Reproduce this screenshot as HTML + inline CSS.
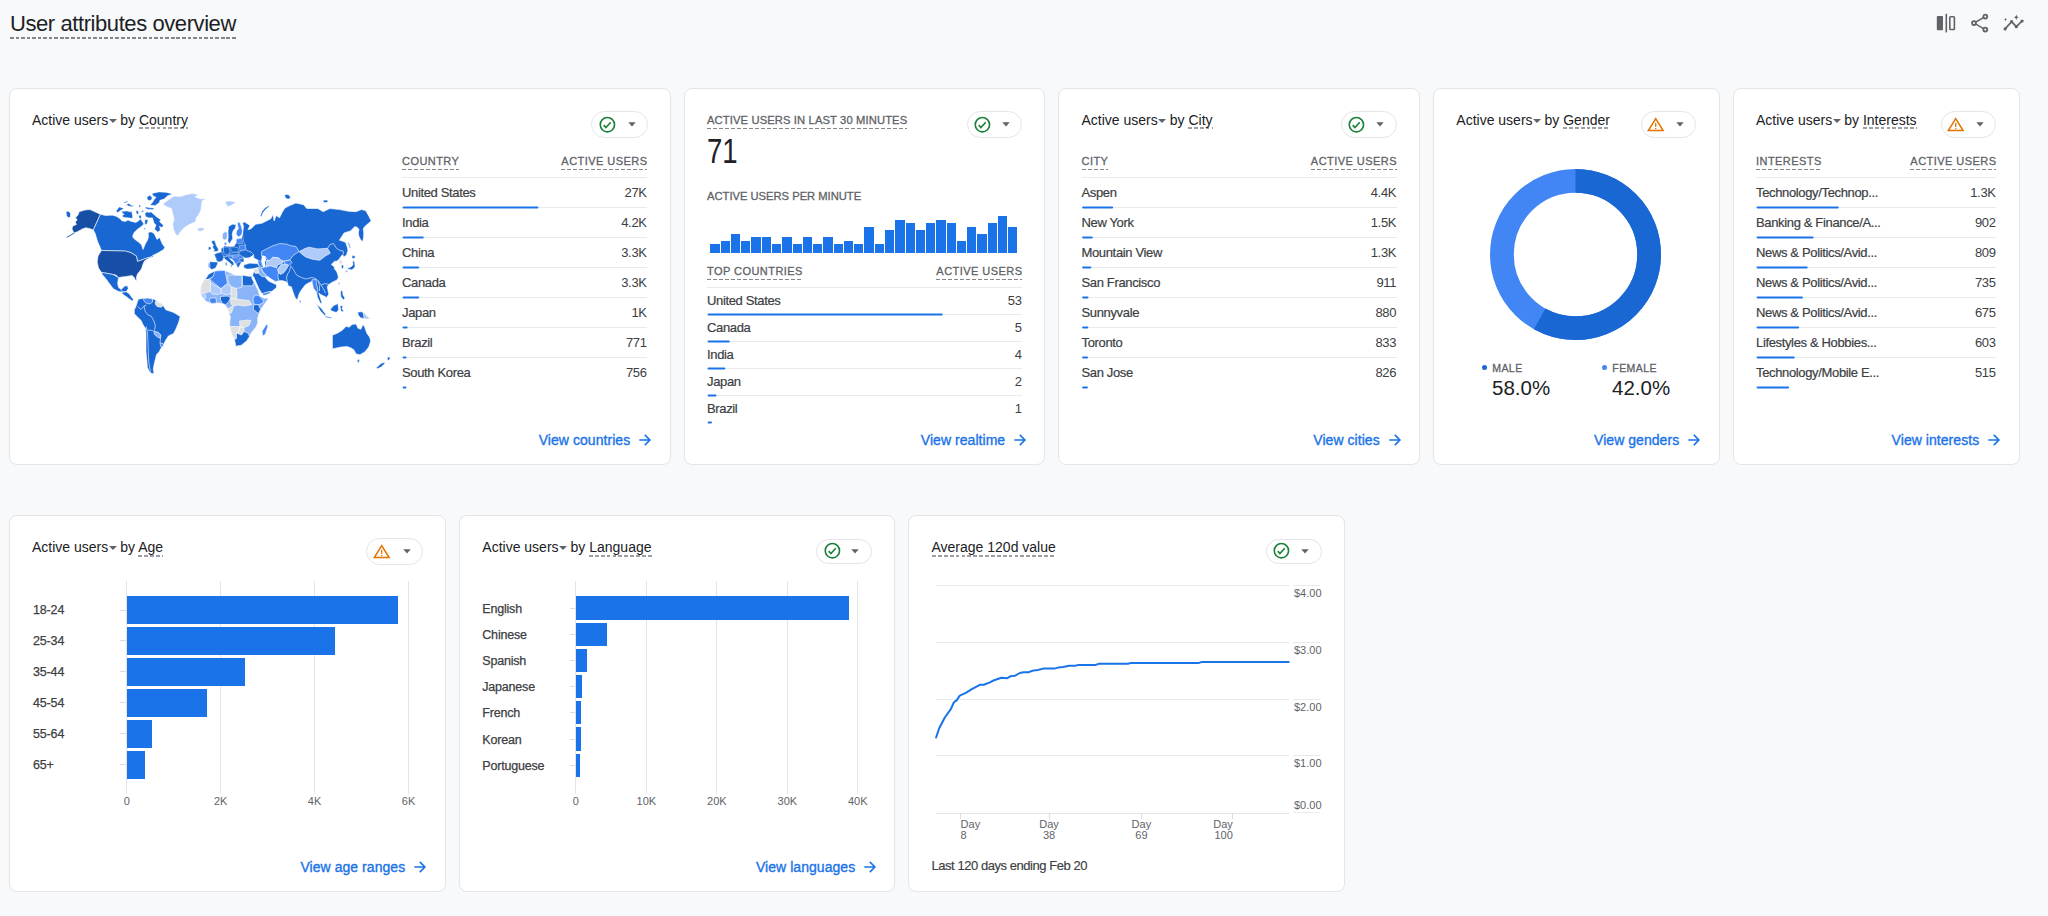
<!DOCTYPE html>
<html><head><meta charset="utf-8"><title>User attributes overview</title><style>
*{margin:0;padding:0;box-sizing:border-box}
html,body{width:2048px;height:916px;overflow:hidden;background:#f8f9fa}
body{position:relative;font-family:'Liberation Sans', Arial, sans-serif;color:#202124}
.t{position:absolute;white-space:nowrap}
.r{position:absolute}
.ic{position:absolute;overflow:visible}
.card{position:absolute;background:#fff;border:1px solid #e3e5e8;border-radius:8px}
.pill{position:absolute;border:1px solid #e3e5e8;border-radius:14px;background:#fff}
.du{background-image:repeating-linear-gradient(to right,#80868b 0 4px,transparent 4px 6px);background-repeat:no-repeat;background-size:100% 1px;background-position:0 100%}
.du11{padding-bottom:3px}
.ttl{font-size:14px;line-height:14px;color:#202124}
.ttl .dim{background-image:repeating-linear-gradient(to right,#9aa0a6 0 3.8px,transparent 3.8px 5.9px);background-repeat:no-repeat;background-size:100% 2px;background-position:0 100%;padding-bottom:1.4px}
.car{display:inline-block;width:0;height:0;border-left:4.2px solid transparent;border-right:4.2px solid transparent;border-top:4.3px solid #5f6368;margin:0 -0.5px 0 0.6px;vertical-align:2.2px}
.lnk{font-size:14px;line-height:14px;color:#1a73e8;-webkit-text-stroke:0.35px #1a73e8;letter-spacing:0.05px}
</style></head><body>
<div class="t" style="top:12.78px;font-size:22px;line-height:22px;color:#202124;letter-spacing:-0.42px;left:10.00px;"><span style="background-image:repeating-linear-gradient(to right,#80868b 0 3.6px,transparent 3.6px 5.55px);background-repeat:no-repeat;background-size:100% 2px;background-position:0 100%;padding-bottom:3.6px">User attributes overview</span></div>
<svg class="ic" style="left:1934px;top:12px" width="24" height="22" viewBox="0 0 24 22"><rect x="2.8" y="3.9" width="6.2" height="14.4" rx="1" fill="#5f6368"/><rect x="11.5" y="1.8" width="1.6" height="18.6" fill="#5f6368"/><rect x="15.8" y="4.7" width="4.6" height="12.8" rx="0.8" fill="none" stroke="#5f6368" stroke-width="1.6"/></svg>
<svg class="ic" style="left:1968px;top:12px" width="24" height="22" viewBox="0 0 24 22"><path d="M17.3 4.6 L6 11.1 L17.3 17.6" fill="none" stroke="#5f6368" stroke-width="1.5"/><circle cx="17.3" cy="4.6" r="1.95" fill="#f8f9fa" stroke="#5f6368" stroke-width="1.8"/><circle cx="6" cy="11.1" r="1.95" fill="#f8f9fa" stroke="#5f6368" stroke-width="1.8"/><circle cx="17.3" cy="17.6" r="1.95" fill="#f8f9fa" stroke="#5f6368" stroke-width="1.8"/></svg>
<svg class="ic" style="left:2000px;top:12px" width="26" height="22" viewBox="0 0 26 22"><path d="M5.1 16.9 L11.6 9.7 L16.3 14.7 L22.1 9" fill="none" stroke="#5f6368" stroke-width="1.7" stroke-linejoin="round"/><circle cx="5.1" cy="16.9" r="1.6" fill="#5f6368"/><circle cx="11.6" cy="9.7" r="1.6" fill="#5f6368"/><circle cx="16.3" cy="14.7" r="1.6" fill="#5f6368"/><circle cx="22.1" cy="9" r="1.6" fill="#5f6368"/><path d="M16.3 2.6 Q16.6 5 18.8 5.3 Q16.6 5.6 16.3 8 Q16 5.6 13.8 5.3 Q16 5 16.3 2.6Z" fill="#5f6368"/><path d="M5.5 5.8 Q5.7 7.3 7 7.5 Q5.7 7.7 5.5 9.2 Q5.3 7.7 4 7.5 Q5.3 7.3 5.5 5.8Z" fill="#5f6368"/></svg>
<div class="card" style="left:9px;top:88px;width:662px;height:377px"></div>
<div class="card" style="left:684px;top:88px;width:361px;height:377px"></div>
<div class="card" style="left:1058px;top:88px;width:362px;height:377px"></div>
<div class="card" style="left:1433px;top:88px;width:287px;height:377px"></div>
<div class="card" style="left:1733px;top:88px;width:287px;height:377px"></div>
<div class="t ttl" style="left:32px;top:112.95px">Active users<span class="car"></span> by <span class="dim">Country</span></div>
<div class="pill" style="left:591.0px;top:111.0px;width:57.0px;height:27.0px"></div>
<svg class="ic" style="left:597.5px;top:115.5px" width="18" height="18" viewBox="0 0 18 18"><circle cx="9.4" cy="8.7" r="7.15" fill="none" stroke="#188038" stroke-width="1.6"/><path d="M5.7 9.1 L7.9 11.5 L12.8 6.3" fill="none" stroke="#188038" stroke-width="1.6"/></svg>
<svg class="ic" style="left:626.8px;top:121.9px" width="10" height="6" viewBox="0 0 10 6"><path d="M1.3 0.3 L8.7 0.3 L5 4.6 Z" fill="#5f6368"/></svg>
<svg class="ic" style="left:0;top:0" width="2048" height="916" viewBox="0 0 2048 916">
<polygon points="66.0,212.0 68.0,211.0 70.5,213.0 70.5,217.0 68.0,217.8 66.5,215.5" fill="#1967d2" stroke="#fff" stroke-width="0.6" stroke-linejoin="round"/>
<polygon points="79.1,211.8 85.1,209.9 90.0,209.6 100.4,214.3 93.3,230.0 89.5,228.5 85.7,227.8 82.4,228.9 78.0,231.4 74.2,233.0 72.9,230.9 72.0,228.5 72.9,225.9 76.4,224.5 75.3,222.1 77.3,219.7 75.3,217.8 77.5,215.8 78.6,213.6" fill="#174ea6" stroke="#fff" stroke-width="0.6" stroke-linejoin="round"/>
<polygon points="100.4,214.3 105.9,215.6 110.0,215.2 112.6,215.2 116.2,216.2 120.3,218.8 121.8,220.8 125.4,221.4 128.0,220.1 131.5,221.4 135.7,222.4 138.7,220.8 140.3,218.8 141.8,220.8 143.9,223.9 140.8,227.0 137.7,229.0 134.1,232.6 132.8,235.5 133.0,237.5 135.5,240.0 138.6,242.0 141.6,245.0 143.0,249.5 143.9,247.5 145.5,243.5 147.4,240.3 148.5,236.5 148.2,233.5 149.0,232.1 151.5,232.0 154.1,233.5 157.0,239.4 159.6,237.4 162.3,243.9 164.8,247.2 163.7,249.4 158.3,252.7 153.9,254.9 150.6,257.1 146.3,258.2 140.8,260.3 137.5,261.4 136.4,256.0 131.0,252.7 125.5,251.1 101.5,250.5 97.7,241.8 95.0,233.0 93.3,230.0" fill="#1967d2" stroke="#fff" stroke-width="0.6" stroke-linejoin="round"/>
<polygon points="152.1,193.6 159.3,192.1 166.4,192.4 172.1,193.9 167.5,195.7 164.4,198.8 159.8,200.3 159.3,202.4 155.2,205.4 150.0,204.9 152.6,202.4 154.1,199.8 156.2,197.2 153.1,195.7" fill="#1967d2" stroke="#fff" stroke-width="0.3" stroke-linejoin="round"/>
<polygon points="146.9,197.2 150.0,195.2 152.1,197.7 151.0,200.3 148.0,200.3" fill="#1967d2" stroke="#fff" stroke-width="0.3" stroke-linejoin="round"/>
<polygon points="145.4,207.0 149.0,207.8 153.6,208.0 153.6,209.4 148.0,209.2 145.4,208.3" fill="#1967d2" stroke="#fff" stroke-width="0.3" stroke-linejoin="round"/>
<polygon points="139.2,204.9 140.8,205.8 139.8,207.2 138.8,206.2" fill="#1967d2" stroke="#fff" stroke-width="0.3" stroke-linejoin="round"/>
<polygon points="123.6,202.4 127.4,201.1 127.7,201.9 124.4,202.9" fill="#1967d2" stroke="#fff" stroke-width="0.3" stroke-linejoin="round"/>
<polygon points="126.4,204.9 128.5,203.4 131.5,205.4 134.1,205.7 132.6,206.6 129.5,206.3" fill="#1967d2" stroke="#fff" stroke-width="0.3" stroke-linejoin="round"/>
<polygon points="116.2,211.1 119.2,207.0 123.9,208.5 120.3,210.6 117.7,212.6" fill="#1967d2" stroke="#fff" stroke-width="0.3" stroke-linejoin="round"/>
<polygon points="121.8,211.6 126.9,211.1 130.5,212.1 131.5,211.1 132.6,216.2 132.1,218.3 128.5,217.8 123.3,217.2 122.3,215.7 124.4,214.2 122.3,213.1" fill="#1967d2" stroke="#fff" stroke-width="0.3" stroke-linejoin="round"/>
<polygon points="136.2,211.1 137.7,210.6 138.7,213.1 137.7,214.2 136.2,213.1" fill="#1967d2" stroke="#fff" stroke-width="0.3" stroke-linejoin="round"/>
<polygon points="140.8,211.6 143.9,210.3 142.8,212.3" fill="#1967d2" stroke="#fff" stroke-width="0.3" stroke-linejoin="round"/>
<polygon points="138.7,215.7 140.8,215.2 141.3,217.8 139.8,218.8" fill="#1967d2" stroke="#fff" stroke-width="0.3" stroke-linejoin="round"/>
<polygon points="144.9,213.7 146.9,212.1 149.5,212.6 151.0,212.1 154.1,214.7 156.2,216.7 160.8,219.8 159.3,221.4 163.4,225.5 161.8,227.5 159.3,226.0 160.3,230.1 157.7,232.1 154.6,229.0 156.2,224.9 154.1,222.9 152.6,217.8 149.0,217.8 145.9,216.7" fill="#1967d2" stroke="#fff" stroke-width="0.3" stroke-linejoin="round"/>
<polygon points="144.9,219.8 148.0,219.8 146.9,223.9 144.9,224.4" fill="#1967d2" stroke="#fff" stroke-width="0.3" stroke-linejoin="round"/>
<polygon points="143.4,228.0 145.9,228.5 144.9,229.6" fill="#1967d2" stroke="#fff" stroke-width="0.3" stroke-linejoin="round"/>
<polygon points="163.6,203.3 168.8,199.4 174.1,196.1 180.6,196.5 185.8,194.8 191.7,193.5 198.9,194.5 195.0,196.8 200.2,198.8 206.8,198.4 202.2,200.7 201.6,204.6 200.9,209.9 198.9,214.5 196.3,217.7 195.7,221.7 189.8,224.3 184.5,227.6 180.0,232.2 178.0,236.1 175.4,234.1 173.4,228.9 172.7,224.3 174.1,219.1 172.7,213.8 171.4,208.6 166.2,206.6 163.6,204.6" fill="#aecbfa" stroke="#fff" stroke-width="0.6" stroke-linejoin="round"/>
<polygon points="197.6,228.2 202.9,227.6 204.5,229.5 200.2,231.5 197.6,230.2" fill="#aecbfa" stroke="#fff" stroke-width="0.6" stroke-linejoin="round"/>
<polygon points="225.0,201.4 230.0,201.0 235.9,202.0 232.0,205.0 228.0,206.8 226.0,204.0" fill="#aecbfa" stroke="#fff" stroke-width="0.6" stroke-linejoin="round"/>
<polygon points="101.5,250.5 125.5,251.1 131.0,252.7 136.4,256.0 137.5,261.4 140.8,260.3 146.3,258.2 150.6,257.1 153.9,254.9 152.8,257.1 150.6,257.6 146.3,259.6 144.0,261.6 143.2,263.8 142.2,266.5 141.5,268.8 139.5,271.5 137.5,274.0 136.6,276.5 136.4,281.2 135.2,279.5 134.3,277.5 132.0,275.5 126.5,276.4 122.0,277.0 118.6,277.5 116.0,275.0 113.0,274.5 108.0,273.5 101.6,272.5 98.5,268.0 97.2,262.0 98.0,256.0" fill="#174ea6" stroke="#fff" stroke-width="0.6" stroke-linejoin="round"/>
<polygon points="101.6,272.5 108.0,273.5 113.0,274.5 118.6,277.5 117.6,283.6 118.6,287.5 121.2,289.6 122.8,287.8 124.8,286.0 127.6,285.8 128.2,288.5 126.5,291.5 122.5,292.1 118.6,291.5 113.3,288.8 109.4,283.6 105.5,278.3 102.2,274.4" fill="#1967d2" stroke="#fff" stroke-width="0.6" stroke-linejoin="round"/>
<polygon points="122.5,292.1 126.5,291.8 129.5,294.0 131.5,297.0 133.5,299.5 132.5,301.0 130.0,299.5 127.5,297.5 124.5,295.5 122.0,293.5" fill="#1967d2" stroke="#fff" stroke-width="0.6" stroke-linejoin="round"/>
<polygon points="138.2,299.3 144.8,298.0 150.0,298.5 154.0,299.3 158.0,302.0 163.2,305.5 165.8,309.8 173.6,312.4 180.2,316.4 178.9,321.6 176.3,328.2 173.6,333.4 168.4,336.0 165.8,340.0 163.2,345.2 160.5,349.1 159.2,351.7 156.6,354.4 155.3,359.6 154.0,364.8 153.3,368.8 154.0,374.0 150.0,372.7 147.4,367.5 146.8,359.6 146.0,351.7 146.0,341.3 146.0,333.4 145.5,328.2 143.5,325.5 140.9,320.3 137.0,316.4 134.3,313.7 134.3,309.8 135.6,307.2 137.0,303.3" fill="#1967d2" stroke="#fff" stroke-width="0.6" stroke-linejoin="round"/>
<polygon points="143.5,298.7 148.0,298.0 152.5,299.0 152.5,302.0 150.0,304.0 146.0,303.0 144.0,301.0" fill="#4285f4" stroke="#fff" stroke-width="0.6" stroke-linejoin="round"/>
<polygon points="155.3,301.5 160.0,302.5 163.5,305.5 161.0,307.2 157.0,306.5 155.3,304.0" fill="#dedfe1" stroke="#fff" stroke-width="0.6" stroke-linejoin="round"/>
<polygon points="154.0,331.4 158.0,332.0 161.0,335.0 160.5,338.5 157.5,337.0 154.5,334.5" fill="#8ab4f8" stroke="#fff" stroke-width="0.6" stroke-linejoin="round"/>
<polygon points="160.0,343.0 163.0,343.5 163.5,346.0 161.0,347.0" fill="#4285f4" stroke="#fff" stroke-width="0.6" stroke-linejoin="round"/>
<polygon points="242.4,223.2 244.6,222.1 250.0,225.4 247.9,229.8 251.1,228.7 255.5,224.3 262.0,223.2 266.4,221.0 270.8,218.8 273.0,214.5 274.1,221.0 276.2,215.6 279.5,217.8 282.8,211.2 285.0,208.0 289.4,205.7 295.9,203.0 303.6,204.7 306.8,208.5 317.8,208.5 323.2,211.7 329.8,208.5 339.6,209.6 348.3,211.2 356.0,211.7 361.4,209.6 365.8,210.7 369.1,216.7 371.2,221.0 364.7,226.5 363.2,229.0 363.8,233.0 363.6,237.4 362.5,242.0 360.5,239.5 359.0,236.5 358.3,233.0 359.0,229.5 357.5,227.5 354.9,226.5 350.5,230.9 344.0,233.0 339.4,240.2 343.0,241.3 345.7,242.6 347.5,247.9 347.9,250.5 346.6,254.8 344.0,257.0 342.7,255.0 341.4,255.7 340.0,257.9 338.7,259.7 336.1,261.4 334.8,261.0 331.3,264.5 334.4,267.1 334.4,268.8 336.6,271.4 337.9,274.9 338.3,277.5 337.0,280.0 332.6,282.1 328.8,284.4 327.2,286.7 328.8,294.3 326.5,297.4 323.4,295.8 320.4,294.3 318.8,292.8 320.0,297.0 322.0,303.0 320.5,303.5 317.5,297.5 316.5,291.5 315.8,291.3 313.5,288.2 312.7,284.4 311.9,281.5 310.4,282.1 307.4,283.6 305.1,285.1 300.5,291.3 299.0,294.3 297.4,299.7 295.9,298.9 294.4,295.8 292.8,291.3 291.3,286.7 288.3,285.9 287.5,282.8 285.2,281.3 281.4,280.6 279.2,280.8 275.3,281.5 272.5,279.8 267.5,276.3 265.5,277.5 268.5,281.0 272.7,283.0 276.2,284.5 276.6,287.4 272.0,291.3 265.5,292.6 262.2,293.9 258.9,288.7 256.3,282.8 253.7,276.9 252.5,275.5 253.0,274.0 254.0,271.0 257.5,268.8 259.6,267.1 260.0,264.0 261.0,262.3 258.9,261.0 257.6,259.9 253.7,257.9 253.7,254.6 251.7,252.7 246.5,250.3 245.8,249.4 245.2,244.8 243.2,241.5 242.6,235.0 243.5,226.0" fill="#1967d2" stroke="#fff" stroke-width="0.6" stroke-linejoin="round"/>
<polygon points="338.7,260.5 341.5,259.5 342.5,262.0 341.4,264.5 339.5,263.5" fill="#dedfe1" stroke="#fff" stroke-width="0.6" stroke-linejoin="round"/>
<polygon points="341.4,264.9 343.5,264.9 343.6,268.0 342.0,268.8 341.3,267.0" fill="#1967d2" stroke="#fff" stroke-width="0.6" stroke-linejoin="round"/>
<polygon points="212.0,240.6 214.6,240.5 215.7,243.3 216.3,245.6 217.4,247.2 218.4,249.2 218.4,250.7 216.4,251.6 213.3,251.7 214.4,249.7 213.3,248.5 212.4,246.8 213.6,245.5 212.2,243.6 211.6,242.2" fill="#1967d2" stroke="#fff" stroke-width="0.6" stroke-linejoin="round"/>
<polygon points="208.2,247.0 210.9,246.7 211.1,249.5 208.4,249.9" fill="#1967d2" stroke="#fff" stroke-width="0.6" stroke-linejoin="round"/>
<polygon points="222.3,234.0 224.5,232.0 227.2,231.8 227.5,236.0 226.5,239.5 224.0,240.0 222.5,238.5" fill="#8ab4f8" stroke="#fff" stroke-width="0.6" stroke-linejoin="round"/>
<polygon points="228.5,226.5 232.3,224.2 236.0,224.6 235.5,228.0 233.0,231.0 232.2,234.5 232.8,238.5 231.0,241.5 229.2,243.7 227.8,241.0 228.2,236.5 228.0,232.0" fill="#1967d2" stroke="#fff" stroke-width="0.6" stroke-linejoin="round"/>
<polygon points="237.5,222.0 239.8,222.5 241.2,226.0 242.5,231.0 241.5,235.0 238.5,237.0 236.2,234.5 236.5,231.0 238.5,228.5 237.7,226.0" fill="#4285f4" stroke="#fff" stroke-width="0.6" stroke-linejoin="round"/>
<polygon points="214.4,254.6 217.0,253.3 221.0,252.2 221.3,252.0 221.6,248.1 223.6,247.4 224.5,246.0 226.5,246.5 228.8,246.8 230.8,246.8 234.0,246.5 236.5,243.0 236.6,239.0 241.7,238.5 242.6,235.0 243.2,241.5 245.2,244.8 245.8,249.4 246.5,250.3 251.7,252.7 253.7,254.6 249.8,257.3 245.8,257.9 242.6,256.6 243.5,257.9 243.9,261.5 241.0,262.5 240.5,263.5 239.3,265.8 238.0,267.7 236.7,265.1 236.0,264.0 234.0,261.0 232.0,258.8 229.2,258.2 224.6,258.6 223.6,257.3 222.6,260.5 219.6,261.8 217.0,261.2 216.0,257.9" fill="#1967d2"/>
<polygon points="224.4,242.5 226.1,242.3 226.5,244.8 224.6,245.2" fill="#4285f4" stroke="#fff" stroke-width="0.35" stroke-linejoin="round"/>
<polygon points="223.6,247.4 228.8,246.8 230.1,251.4 228.8,254.0 224.9,254.6 223.2,250.7" fill="#1967d2" stroke="#fff" stroke-width="0.35" stroke-linejoin="round"/>
<polygon points="221.6,248.1 223.4,248.1 223.4,252.4 221.3,252.0" fill="#1967d2" stroke="#fff" stroke-width="0.35" stroke-linejoin="round"/>
<polygon points="230.8,246.8 238.0,247.4 238.6,251.7 232.7,252.2 230.8,250.7" fill="#1967d2" stroke="#fff" stroke-width="0.35" stroke-linejoin="round"/>
<polygon points="214.4,254.6 217.0,253.3 221.0,252.2 223.1,254.0 223.6,257.3 222.6,260.5 219.6,261.8 217.0,261.2 216.0,257.9" fill="#1967d2" stroke="#fff" stroke-width="0.35" stroke-linejoin="round"/>
<polygon points="209.5,261.8 218.0,262.2 217.0,265.1 215.4,268.1 211.8,269.4 209.8,268.1 209.8,264.5" fill="#1967d2" stroke="#fff" stroke-width="0.35" stroke-linejoin="round"/>
<polygon points="208.4,263.2 209.7,263.2 209.7,267.7 208.4,267.4" fill="#4285f4" stroke="#fff" stroke-width="0.35" stroke-linejoin="round"/>
<polygon points="228.8,254.0 233.0,252.5 238.5,252.5 238.3,254.5 233.0,255.0 229.0,255.2" fill="#1967d2" stroke="#fff" stroke-width="0.35" stroke-linejoin="round"/>
<polygon points="223.6,256.5 228.0,255.5 233.0,255.3 233.0,256.5 228.5,257.0 224.5,257.5" fill="#4285f4" stroke="#fff" stroke-width="0.35" stroke-linejoin="round"/>
<polygon points="224.4,256.7 228.4,256.1 229.2,258.2 231.3,260.4 233.6,262.6 233.9,264.8 232.0,265.6 230.6,263.6 227.8,261.3 225.8,259.7 224.6,258.6" fill="#1967d2" stroke="#fff" stroke-width="0.35" stroke-linejoin="round"/>
<polygon points="229.8,265.8 232.2,265.5 231.5,267.0" fill="#1967d2" stroke="#fff" stroke-width="0.35" stroke-linejoin="round"/>
<polygon points="225.5,262.5 226.8,262.5 226.8,265.5 225.5,265.5" fill="#1967d2" stroke="#fff" stroke-width="0.35" stroke-linejoin="round"/>
<polygon points="232.7,255.3 237.5,254.8 238.3,256.5 235.0,257.5 233.0,257.0" fill="#4285f4" stroke="#fff" stroke-width="0.35" stroke-linejoin="round"/>
<polygon points="232.0,257.3 235.0,257.8 236.5,257.0 238.3,259.5 239.5,262.0 237.3,262.5 236.0,264.0 234.0,261.0 232.0,258.8" fill="#4285f4" stroke="#fff" stroke-width="0.35" stroke-linejoin="round"/>
<polygon points="238.3,255.3 242.6,254.6 243.5,257.9 239.3,259.2" fill="#4285f4" stroke="#fff" stroke-width="0.35" stroke-linejoin="round"/>
<polygon points="239.3,259.5 243.5,258.5 243.9,261.5 240.6,261.8" fill="#1967d2" stroke="#fff" stroke-width="0.35" stroke-linejoin="round"/>
<polygon points="237.3,262.5 240.6,261.8 240.5,263.5 239.3,265.8 238.0,267.7 236.7,265.1" fill="#1967d2" stroke="#fff" stroke-width="0.35" stroke-linejoin="round"/>
<polygon points="239.3,251.4 245.8,250.1 251.7,252.7 253.7,254.6 249.8,257.3 245.8,257.9 242.6,256.6 239.3,254.6" fill="#1967d2" stroke="#fff" stroke-width="0.35" stroke-linejoin="round"/>
<polygon points="239.3,245.5 244.5,244.8 245.8,249.4 240.0,250.7" fill="#4285f4" stroke="#fff" stroke-width="0.35" stroke-linejoin="round"/>
<polygon points="236.6,239.0 241.7,238.5 242.6,243.2 238.0,243.8 236.5,242.0" fill="#4285f4" stroke="#fff" stroke-width="0.35" stroke-linejoin="round"/>
<polygon points="243.9,265.1 249.8,263.2 257.6,263.8 259.6,267.1 253.7,268.4 247.2,269.1 243.9,267.7" fill="#1967d2" stroke="#fff" stroke-width="0.35" stroke-linejoin="round"/>
<polygon points="257.6,260.5 261.0,261.0 262.0,263.5 261.5,266.5 259.6,267.1 258.5,263.8" fill="#4285f4" stroke="#fff" stroke-width="0.35" stroke-linejoin="round"/>
<polygon points="261.6,251.4 265.5,249.4 272.0,246.1 279.9,243.5 287.1,244.2 290.0,245.6 296.0,246.5 299.2,251.6 296.0,253.5 292.5,256.0 290.0,259.9 283.8,261.2 280.6,259.9 278.6,257.9 272.7,257.3 270.1,260.5 267.5,259.9 265.5,256.6 261.6,256.6" fill="#4285f4" stroke="#fff" stroke-width="0.6" stroke-linejoin="round"/>
<polygon points="266.5,260.5 270.1,260.5 272.7,257.3 278.6,257.9 281.0,260.5 283.8,261.5 281.5,264.0 278.0,264.5 276.6,267.7 270.1,265.8 266.0,267.0" fill="#aecbfa" stroke="#fff" stroke-width="0.6" stroke-linejoin="round"/>
<polygon points="283.8,261.5 290.0,260.0 292.0,262.5 289.0,265.5 285.0,264.5" fill="#4285f4" stroke="#fff" stroke-width="0.6" stroke-linejoin="round"/>
<polygon points="260.9,267.7 266.0,267.0 270.1,265.8 276.6,267.7 278.6,271.7 277.9,276.9 279.2,280.8 275.3,281.5 270.7,279.5 267.5,276.3 262.9,271.7" fill="#4285f4" stroke="#fff" stroke-width="0.6" stroke-linejoin="round"/>
<polygon points="257.0,269.5 260.9,267.7 262.9,271.7 265.5,275.0 265.8,277.0 262.0,276.5 258.5,273.5" fill="#8ab4f8" stroke="#fff" stroke-width="0.6" stroke-linejoin="round"/>
<polygon points="253.7,269.0 257.6,268.8 258.5,270.0 258.5,273.0 255.5,273.5 253.8,271.5" fill="#dedfe1" stroke="#fff" stroke-width="0.6" stroke-linejoin="round"/>
<polygon points="278.6,267.5 281.5,264.5 286.0,264.0 288.5,265.5 286.5,269.0 284.0,272.5 280.5,274.5 278.0,272.0" fill="#aecbfa" stroke="#fff" stroke-width="0.6" stroke-linejoin="round"/>
<polygon points="299.2,251.6 305.0,248.5 309.0,247.2 317.8,248.9 327.6,248.3 330.3,253.2 325.4,256.0 319.9,260.3 312.3,259.2 305.7,257.0 301.4,253.8" fill="#aecbfa" stroke="#fff" stroke-width="0.6" stroke-linejoin="round"/>
<polygon points="311.9,279.8 316.0,279.5 316.5,284.0 318.0,290.0 317.0,292.5 315.8,291.3 313.5,288.2 312.7,284.4" fill="#4285f4" stroke="#fff" stroke-width="0.6" stroke-linejoin="round"/>
<polygon points="262.5,293.5 265.5,292.6 270.0,291.5 270.5,293.0 266.0,295.0 263.0,295.5" fill="#4285f4" stroke="#fff" stroke-width="0.6" stroke-linejoin="round"/>
<polygon points="262.5,255.3 265.5,256.6 266.1,259.9 264.8,262.5 265.5,266.4 262.9,267.7 262.2,264.5 261.2,261.2 261.6,257.9" fill="#ffffff"/>
<polygon points="265.8,276.8 268.0,276.5 271.0,278.5 274.5,280.8 272.5,282.0 269.5,281.0 267.5,279.5 266.0,278.0" fill="#ffffff"/>
<polygon points="260.5,216.0 262.0,211.5 265.0,208.0 268.8,205.8 269.2,206.6 265.8,209.2 263.0,212.5 261.5,216.5" fill="#1967d2" stroke="#fff" stroke-width="0.3" stroke-linejoin="round"/>
<polygon points="284.5,195.0 288.0,194.5 290.5,197.0 289.0,199.0 286.0,198.5" fill="#1967d2" stroke="#fff" stroke-width="0.3" stroke-linejoin="round"/>
<polygon points="323.0,200.5 327.0,200.0 328.0,202.0 324.0,202.5" fill="#1967d2" stroke="#fff" stroke-width="0.3" stroke-linejoin="round"/>
<polygon points="316.5,304.2 321.1,308.1 325.7,314.2 324.9,315.7 320.4,311.1 316.9,305.0" fill="#1967d2" stroke="#fff" stroke-width="0.6" stroke-linejoin="round"/>
<polygon points="325.5,316.0 332.0,317.5 331.5,318.5 325.0,317.2" fill="#1967d2" stroke="#fff" stroke-width="0.6" stroke-linejoin="round"/>
<polygon points="330.3,309.6 333.3,305.8 337.9,303.5 338.7,309.6 336.4,312.6 331.8,311.1" fill="#1967d2" stroke="#fff" stroke-width="0.6" stroke-linejoin="round"/>
<polygon points="340.0,306.0 343.0,305.5 342.0,309.0 344.0,311.0 341.5,312.0 340.5,309.0" fill="#1967d2" stroke="#fff" stroke-width="0.6" stroke-linejoin="round"/>
<polygon points="340.5,291.0 342.5,290.5 343.0,295.0 345.0,298.0 343.5,300.0 341.0,297.0 340.5,294.0" fill="#1967d2" stroke="#fff" stroke-width="0.6" stroke-linejoin="round"/>
<polygon points="338.5,282.0 339.5,282.0 339.7,284.5 338.5,284.5" fill="#1967d2" stroke="#fff" stroke-width="0.6" stroke-linejoin="round"/>
<polygon points="357.8,312.0 361.9,311.8 364.8,313.8 369.8,318.8 366.0,319.0 363.5,318.5 360.5,317.8 358.2,315.0" fill="#1967d2" stroke="#fff" stroke-width="0.6" stroke-linejoin="round"/>
<polygon points="353.1,260.3 354.6,262.3 355.1,266.2 353.8,268.6 351.4,269.9 348.8,269.0 347.3,269.9 348.1,267.7 351.0,266.9 352.9,264.9 352.7,261.8" fill="#1967d2" stroke="#fff" stroke-width="0.6" stroke-linejoin="round"/>
<polygon points="345.7,270.6 347.5,270.8 347.0,272.3 345.8,272.2" fill="#1967d2" stroke="#fff" stroke-width="0.6" stroke-linejoin="round"/>
<polygon points="352.2,255.3 355.3,256.0 354.5,258.8 352.0,258.3" fill="#1967d2" stroke="#fff" stroke-width="0.6" stroke-linejoin="round"/>
<polygon points="299.5,300.0 301.0,300.5 300.8,302.5 299.5,302.5" fill="#1967d2" stroke="#fff" stroke-width="0.6" stroke-linejoin="round"/>
<polygon points="347.6,242.4 348.8,242.6 350.9,247.5 350.0,248.2" fill="#1967d2" stroke="#fff" stroke-width="0.6" stroke-linejoin="round"/>
<polygon points="363.3,312.8 364.8,313.8 369.8,318.8 366.0,319.0 364.0,318.5" fill="#aecbfa" stroke="#fff" stroke-width="0.6" stroke-linejoin="round"/>
<polygon points="332.4,335.2 337.3,333.2 342.2,330.3 346.2,326.3 349.1,327.3 352.1,324.4 356.0,323.9 358.0,328.3 360.9,329.3 362.9,324.4 364.8,327.3 366.8,333.2 369.7,337.2 370.7,341.1 368.8,347.0 364.8,351.9 359.9,354.8 356.0,353.9 354.0,349.9 351.1,348.0 347.2,346.5 341.3,347.0 336.3,348.0 332.4,348.9 332.4,341.1" fill="#1967d2" stroke="#fff" stroke-width="0.6" stroke-linejoin="round"/>
<polygon points="357.0,359.8 359.5,359.5 359.2,362.3 357.6,362.4" fill="#1967d2" stroke="#fff" stroke-width="0.6" stroke-linejoin="round"/>
<polygon points="376.3,367.8 381.0,363.5 384.3,362.3 384.8,363.6 381.5,366.8 377.5,368.8" fill="#1967d2" stroke="#fff" stroke-width="0.6" stroke-linejoin="round"/>
<polygon points="387.5,357.3 389.8,356.8 390.0,358.5 388.5,360.5 387.3,359.5" fill="#1967d2" stroke="#fff" stroke-width="0.6" stroke-linejoin="round"/>
<polygon points="215.1,270.9 219.5,269.8 226.0,270.9 230.4,273.1 235.9,275.3 242.4,275.3 250.0,276.4 251.5,276.0 252.2,279.0 255.5,285.0 258.0,290.0 259.9,296.0 264.2,298.2 268.6,298.2 266.4,301.5 263.1,305.9 259.9,311.3 257.7,317.9 257.7,323.3 255.5,327.7 251.1,333.1 249.5,336.4 246.8,340.8 241.3,345.2 235.9,346.2 234.8,339.7 232.0,335.3 230.9,331.0 229.8,326.6 229.8,322.2 230.4,316.8 228.8,312.4 227.7,309.1 226.0,305.9 222.8,303.7 218.4,303.1 211.8,303.7 206.4,301.5 202.0,297.1 200.4,292.8 200.9,286.2 204.2,279.7 208.6,274.2" fill="#8ab4f8" stroke="#fff" stroke-width="0.6" stroke-linejoin="round"/>
<polygon points="208.6,274.2 215.1,270.9 215.7,273.0 213.0,276.5 209.0,279.0 205.0,280.0" fill="#1967d2" stroke="#fff" stroke-width="0.6" stroke-linejoin="round"/>
<polygon points="215.1,271.0 224.9,270.4 227.5,283.5 221.0,288.7 209.8,279.5 213.0,276.5" fill="#4285f4" stroke="#fff" stroke-width="0.6" stroke-linejoin="round"/>
<polygon points="204.2,279.7 209.8,279.5 211.0,285.0 210.5,291.5 204.5,293.0 200.5,292.8 200.9,286.2" fill="#dedfe1" stroke="#fff" stroke-width="0.6" stroke-linejoin="round"/>
<polygon points="210.5,283.0 221.0,288.7 221.5,293.5 217.0,294.5 212.0,294.0 210.5,291.5" fill="#aecbfa" stroke="#fff" stroke-width="0.6" stroke-linejoin="round"/>
<polygon points="221.0,288.7 227.5,283.5 231.5,287.0 231.0,294.0 225.0,294.5 221.5,293.5" fill="#aecbfa" stroke="#fff" stroke-width="0.6" stroke-linejoin="round"/>
<polygon points="227.5,275.0 241.9,275.6 241.9,287.4 236.0,288.5 231.5,287.0 228.2,282.2" fill="#8ab4f8" stroke="#fff" stroke-width="0.6" stroke-linejoin="round"/>
<polygon points="242.4,275.3 250.0,276.4 251.5,276.0 252.2,279.0 254.0,282.5 252.4,285.8 242.6,285.8" fill="#1967d2" stroke="#fff" stroke-width="0.6" stroke-linejoin="round"/>
<polygon points="231.5,287.0 236.0,288.5 237.0,292.0 236.5,300.5 233.0,302.0 231.0,297.0 231.0,294.0" fill="#dedfe1" stroke="#fff" stroke-width="0.6" stroke-linejoin="round"/>
<polygon points="220.5,296.5 228.0,296.0 230.5,298.0 228.5,302.0 225.5,304.5 222.5,303.5 220.5,300.0" fill="#1967d2" stroke="#fff" stroke-width="0.6" stroke-linejoin="round"/>
<polygon points="253.0,299.0 255.0,295.0 258.5,295.5 262.0,298.5 264.0,302.0 259.5,304.5 255.5,305.0 253.5,302.5" fill="#4285f4" stroke="#fff" stroke-width="0.6" stroke-linejoin="round"/>
<polygon points="253.5,305.0 258.0,304.5 259.5,307.0 260.5,309.5 258.5,313.5 256.5,312.0 253.5,309.5" fill="#1967d2" stroke="#fff" stroke-width="0.6" stroke-linejoin="round"/>
<polygon points="230.5,298.0 237.0,299.0 243.5,300.0 249.0,300.5 252.0,304.5 244.0,306.0 238.0,305.0 233.5,306.0 231.0,304.0" fill="#dedfe1" stroke="#fff" stroke-width="0.6" stroke-linejoin="round"/>
<polygon points="227.7,309.1 231.5,306.5 233.5,306.0 231.5,313.0 229.5,313.0" fill="#dedfe1" stroke="#fff" stroke-width="0.6" stroke-linejoin="round"/>
<polygon points="239.5,321.0 244.5,320.5 247.0,320.0 251.0,320.5 249.0,325.5 244.0,327.5 240.0,327.0" fill="#dedfe1" stroke="#fff" stroke-width="0.6" stroke-linejoin="round"/>
<polygon points="229.8,326.6 239.5,326.5 240.0,327.0 238.5,332.0 236.5,333.0 236.5,338.5 234.5,339.5 232.0,335.3 230.9,331.0" fill="#dedfe1" stroke="#fff" stroke-width="0.6" stroke-linejoin="round"/>
<polygon points="238.5,332.0 240.0,327.0 244.0,327.5 244.0,331.5 241.5,335.0 236.5,333.0" fill="#dedfe1" stroke="#fff" stroke-width="0.6" stroke-linejoin="round"/>
<polygon points="234.5,339.5 236.5,338.5 236.5,333.0 241.5,335.0 244.0,331.5 248.0,333.0 249.5,336.4 246.8,340.8 241.3,345.2 235.9,346.2" fill="#1967d2" stroke="#fff" stroke-width="0.6" stroke-linejoin="round"/>
<polygon points="210.0,298.0 216.0,298.0 216.5,303.0 211.5,303.5 209.5,301.0" fill="#4285f4" stroke="#fff" stroke-width="0.6" stroke-linejoin="round"/>
<polygon points="200.8,293.5 205.0,294.0 206.0,298.0 202.5,298.0" fill="#aecbfa" stroke="#fff" stroke-width="0.6" stroke-linejoin="round"/>
<polygon points="266.4,324.4 268.1,325.5 265.3,334.2 262.6,335.9 262.1,331.0" fill="#4285f4" stroke="#fff" stroke-width="0.6" stroke-linejoin="round"/>
<polyline points="74.2,233 70,235.5 66.6,237.4" fill="none" stroke="#174ea6" stroke-width="0.9"/>
<polyline points="290.6,265.5 293.6,269.9 296.7,275.2 301.3,277.5 305.8,279.0 308.9,278.3 312.0,277.5 315.0,278.3 318.1,280.6 321.1,285.1 324.9,283.6 328.8,284.4" fill="none" stroke="#fff" stroke-width="0.6" stroke-linejoin="round"/>
<polyline points="290.6,266.5 289.5,271.0 287.5,274.0 286.5,278.0 287.5,282.5" fill="none" stroke="#fff" stroke-width="0.6" stroke-linejoin="round"/>
<polyline points="318.1,280.6 319.5,285.5 319.5,291.0" fill="none" stroke="#fff" stroke-width="0.6" stroke-linejoin="round"/>
<polyline points="321.1,285.1 323.5,289.0 325.5,293.0" fill="none" stroke="#fff" stroke-width="0.6" stroke-linejoin="round"/>
<polyline points="327.6,248.3 330.0,244.5 333.5,243.5 336.5,248.3 340.0,250.5 343.1,250.9 343.5,253.5 342.4,255.5" fill="none" stroke="#fff" stroke-width="0.6" stroke-linejoin="round"/>
<polyline points="137.5,306.5 141.0,309.5 144.0,306.0 146.5,305.0" fill="none" stroke="#fff" stroke-width="0.6" stroke-linejoin="round"/>
<polyline points="144.0,306.0 145.0,311.0 148.0,315.0 151.0,316.0 154.0,321.0 155.3,326.0 154.5,330.5" fill="none" stroke="#fff" stroke-width="0.6" stroke-linejoin="round"/>
<polyline points="146.2,326.5 147.6,333.0 148.0,343.0 148.3,352.0 148.8,362.0 150.5,372.5" fill="none" stroke="#fff" stroke-width="0.6" stroke-linejoin="round"/>
<polyline points="147.8,330.0 152.0,330.5 154.5,331.5" fill="none" stroke="#fff" stroke-width="0.6" stroke-linejoin="round"/>
<polyline points="160.5,338.5 160.0,343.0" fill="none" stroke="#fff" stroke-width="0.6" stroke-linejoin="round"/>
<polyline points="121.0,290.0 123.5,292.3" fill="none" stroke="#fff" stroke-width="0.6" stroke-linejoin="round"/>
</svg>
<div class="t" style="top:156.19px;font-size:11px;line-height:11px;color:#5f6368;letter-spacing:0.45px;left:402.00px;-webkit-text-stroke:0.3px #5f6368;"><span class="du du11">COUNTRY</span></div>
<div class="t" style="top:156.19px;font-size:11px;line-height:11px;color:#5f6368;letter-spacing:0.45px;right:1401.00px;margin-right:-0.45px;-webkit-text-stroke:0.3px #5f6368;"><span class="du du11">ACTIVE USERS</span></div>
<div class="r" style="left:402.00px;top:177.10px;width:245.00px;height:1.00px;background:#e8eaed;"></div>
<div class="t" style="top:185.70px;font-size:13px;line-height:13px;color:#3c4043;letter-spacing:-0.35px;left:402.00px;-webkit-text-stroke:0.2px #3c4043;">United States</div>
<div class="t" style="top:185.70px;font-size:13px;line-height:13px;color:#3c4043;letter-spacing:-0.3px;right:1401.00px;margin-right:0.3px;">27K</div>
<div class="r" style="left:402.00px;top:207.00px;width:245.00px;height:1.00px;background:#e8eaed;"></div>
<div class="t" style="top:215.70px;font-size:13px;line-height:13px;color:#3c4043;letter-spacing:-0.35px;left:402.00px;-webkit-text-stroke:0.2px #3c4043;">India</div>
<div class="t" style="top:215.70px;font-size:13px;line-height:13px;color:#3c4043;letter-spacing:-0.3px;right:1401.00px;margin-right:0.3px;">4.2K</div>
<div class="r" style="left:402.00px;top:237.00px;width:245.00px;height:1.00px;background:#e8eaed;"></div>
<div class="t" style="top:245.70px;font-size:13px;line-height:13px;color:#3c4043;letter-spacing:-0.35px;left:402.00px;-webkit-text-stroke:0.2px #3c4043;">China</div>
<div class="t" style="top:245.70px;font-size:13px;line-height:13px;color:#3c4043;letter-spacing:-0.3px;right:1401.00px;margin-right:0.3px;">3.3K</div>
<div class="r" style="left:402.00px;top:267.00px;width:245.00px;height:1.00px;background:#e8eaed;"></div>
<div class="t" style="top:275.70px;font-size:13px;line-height:13px;color:#3c4043;letter-spacing:-0.35px;left:402.00px;-webkit-text-stroke:0.2px #3c4043;">Canada</div>
<div class="t" style="top:275.70px;font-size:13px;line-height:13px;color:#3c4043;letter-spacing:-0.3px;right:1401.00px;margin-right:0.3px;">3.3K</div>
<div class="r" style="left:402.00px;top:297.00px;width:245.00px;height:1.00px;background:#e8eaed;"></div>
<div class="t" style="top:305.70px;font-size:13px;line-height:13px;color:#3c4043;letter-spacing:-0.35px;left:402.00px;-webkit-text-stroke:0.2px #3c4043;">Japan</div>
<div class="t" style="top:305.70px;font-size:13px;line-height:13px;color:#3c4043;letter-spacing:-0.3px;right:1401.00px;margin-right:0.3px;">1K</div>
<div class="r" style="left:402.00px;top:327.00px;width:245.00px;height:1.00px;background:#e8eaed;"></div>
<div class="t" style="top:335.70px;font-size:13px;line-height:13px;color:#3c4043;letter-spacing:-0.35px;left:402.00px;-webkit-text-stroke:0.2px #3c4043;">Brazil</div>
<div class="t" style="top:335.70px;font-size:13px;line-height:13px;color:#3c4043;letter-spacing:-0.3px;right:1401.00px;margin-right:0.3px;">771</div>
<div class="r" style="left:402.00px;top:357.00px;width:245.00px;height:1.00px;background:#e8eaed;"></div>
<div class="t" style="top:365.70px;font-size:13px;line-height:13px;color:#3c4043;letter-spacing:-0.35px;left:402.00px;-webkit-text-stroke:0.2px #3c4043;">South Korea</div>
<div class="t" style="top:365.70px;font-size:13px;line-height:13px;color:#3c4043;letter-spacing:-0.3px;right:1401.00px;margin-right:0.3px;">756</div>
<div class="t lnk" style="right:1417.80px;top:433.15px">View countries</div>
<svg class="ic" style="left:639.4px;top:433.5px" width="12" height="12" viewBox="0 0 12 12"><path d="M0.3 6 L11 6 M5.8 0.9 L10.9 6 L5.8 11.1" fill="none" stroke="#1a73e8" stroke-width="1.6"/></svg>
<div class="t" style="top:114.92px;font-size:11.2px;line-height:11.2px;color:#5f6368;letter-spacing:0.13px;left:707.00px;-webkit-text-stroke:0.3px #5f6368;"><span class="du du11">ACTIVE USERS IN LAST 30 MINUTES</span></div>
<div class="t" style="top:134.10px;font-size:34.5px;line-height:34.5px;color:#202124;left:707.00px;transform:scaleX(0.8);transform-origin:0 0;">71</div>
<div class="pill" style="left:966.5px;top:111.0px;width:55.5px;height:27.0px"></div>
<svg class="ic" style="left:973.0px;top:115.5px" width="18" height="18" viewBox="0 0 18 18"><circle cx="9.4" cy="8.7" r="7.15" fill="none" stroke="#188038" stroke-width="1.6"/><path d="M5.7 9.1 L7.9 11.5 L12.8 6.3" fill="none" stroke="#188038" stroke-width="1.6"/></svg>
<svg class="ic" style="left:1000.8px;top:121.9px" width="10" height="6" viewBox="0 0 10 6"><path d="M1.3 0.3 L8.7 0.3 L5 4.6 Z" fill="#5f6368"/></svg>
<div class="t" style="top:191.12px;font-size:11.2px;line-height:11.2px;color:#5f6368;left:707.00px;-webkit-text-stroke:0.3px #5f6368;"><span class="">ACTIVE USERS PER MINUTE</span></div>
<div class="r" style="left:710.40px;top:244.30px;width:9.27px;height:8.90px;background:#1a73e8;"></div>
<div class="r" style="left:720.67px;top:240.80px;width:9.27px;height:12.40px;background:#1a73e8;"></div>
<div class="r" style="left:730.94px;top:233.80px;width:9.27px;height:19.40px;background:#1a73e8;"></div>
<div class="r" style="left:741.21px;top:240.80px;width:9.27px;height:12.40px;background:#1a73e8;"></div>
<div class="r" style="left:751.48px;top:237.30px;width:9.27px;height:15.90px;background:#1a73e8;"></div>
<div class="r" style="left:761.75px;top:237.30px;width:9.27px;height:15.90px;background:#1a73e8;"></div>
<div class="r" style="left:772.02px;top:244.30px;width:9.27px;height:8.90px;background:#1a73e8;"></div>
<div class="r" style="left:782.29px;top:237.30px;width:9.27px;height:15.90px;background:#1a73e8;"></div>
<div class="r" style="left:792.56px;top:244.30px;width:9.27px;height:8.90px;background:#1a73e8;"></div>
<div class="r" style="left:802.83px;top:237.30px;width:9.27px;height:15.90px;background:#1a73e8;"></div>
<div class="r" style="left:813.10px;top:244.30px;width:9.27px;height:8.90px;background:#1a73e8;"></div>
<div class="r" style="left:823.37px;top:237.30px;width:9.27px;height:15.90px;background:#1a73e8;"></div>
<div class="r" style="left:833.64px;top:244.30px;width:9.27px;height:8.90px;background:#1a73e8;"></div>
<div class="r" style="left:843.91px;top:240.80px;width:9.27px;height:12.40px;background:#1a73e8;"></div>
<div class="r" style="left:854.18px;top:244.30px;width:9.27px;height:8.90px;background:#1a73e8;"></div>
<div class="r" style="left:864.45px;top:226.80px;width:9.27px;height:26.40px;background:#1a73e8;"></div>
<div class="r" style="left:874.72px;top:244.30px;width:9.27px;height:8.90px;background:#1a73e8;"></div>
<div class="r" style="left:884.99px;top:230.30px;width:9.27px;height:22.90px;background:#1a73e8;"></div>
<div class="r" style="left:895.26px;top:219.80px;width:9.27px;height:33.40px;background:#1a73e8;"></div>
<div class="r" style="left:905.53px;top:223.30px;width:9.27px;height:29.90px;background:#1a73e8;"></div>
<div class="r" style="left:915.80px;top:230.30px;width:9.27px;height:22.90px;background:#1a73e8;"></div>
<div class="r" style="left:926.07px;top:223.30px;width:9.27px;height:29.90px;background:#1a73e8;"></div>
<div class="r" style="left:936.34px;top:219.80px;width:9.27px;height:33.40px;background:#1a73e8;"></div>
<div class="r" style="left:946.61px;top:223.30px;width:9.27px;height:29.90px;background:#1a73e8;"></div>
<div class="r" style="left:956.88px;top:240.80px;width:9.27px;height:12.40px;background:#1a73e8;"></div>
<div class="r" style="left:967.15px;top:226.80px;width:9.27px;height:26.40px;background:#1a73e8;"></div>
<div class="r" style="left:977.42px;top:233.80px;width:9.27px;height:19.40px;background:#1a73e8;"></div>
<div class="r" style="left:987.69px;top:223.30px;width:9.27px;height:29.90px;background:#1a73e8;"></div>
<div class="r" style="left:997.96px;top:216.30px;width:9.27px;height:36.90px;background:#1a73e8;"></div>
<div class="r" style="left:1008.23px;top:226.80px;width:9.27px;height:26.40px;background:#1a73e8;"></div>
<div class="t" style="top:266.29px;font-size:11px;line-height:11px;color:#5f6368;letter-spacing:0.45px;left:707.00px;-webkit-text-stroke:0.3px #5f6368;"><span class="du du11">TOP COUNTRIES</span></div>
<div class="t" style="top:266.29px;font-size:11px;line-height:11px;color:#5f6368;letter-spacing:0.45px;right:1026.00px;margin-right:-0.45px;-webkit-text-stroke:0.3px #5f6368;"><span class="du du11">ACTIVE USERS</span></div>
<div class="r" style="left:707.00px;top:286.50px;width:315.00px;height:1.00px;background:#e8eaed;"></div>
<div class="t" style="top:294.40px;font-size:13px;line-height:13px;color:#3c4043;letter-spacing:-0.35px;left:707.00px;-webkit-text-stroke:0.2px #3c4043;">United States</div>
<div class="t" style="top:294.40px;font-size:13px;line-height:13px;color:#3c4043;letter-spacing:-0.3px;right:1026.00px;margin-right:0.3px;">53</div>
<div class="r" style="left:707.00px;top:314.00px;width:315.00px;height:1.00px;background:#e8eaed;"></div>
<div class="t" style="top:321.40px;font-size:13px;line-height:13px;color:#3c4043;letter-spacing:-0.35px;left:707.00px;-webkit-text-stroke:0.2px #3c4043;">Canada</div>
<div class="t" style="top:321.40px;font-size:13px;line-height:13px;color:#3c4043;letter-spacing:-0.3px;right:1026.00px;margin-right:0.3px;">5</div>
<div class="r" style="left:707.00px;top:341.00px;width:315.00px;height:1.00px;background:#e8eaed;"></div>
<div class="t" style="top:348.40px;font-size:13px;line-height:13px;color:#3c4043;letter-spacing:-0.35px;left:707.00px;-webkit-text-stroke:0.2px #3c4043;">India</div>
<div class="t" style="top:348.40px;font-size:13px;line-height:13px;color:#3c4043;letter-spacing:-0.3px;right:1026.00px;margin-right:0.3px;">4</div>
<div class="r" style="left:707.00px;top:368.00px;width:315.00px;height:1.00px;background:#e8eaed;"></div>
<div class="t" style="top:375.40px;font-size:13px;line-height:13px;color:#3c4043;letter-spacing:-0.35px;left:707.00px;-webkit-text-stroke:0.2px #3c4043;">Japan</div>
<div class="t" style="top:375.40px;font-size:13px;line-height:13px;color:#3c4043;letter-spacing:-0.3px;right:1026.00px;margin-right:0.3px;">2</div>
<div class="r" style="left:707.00px;top:395.00px;width:315.00px;height:1.00px;background:#e8eaed;"></div>
<div class="t" style="top:402.40px;font-size:13px;line-height:13px;color:#3c4043;letter-spacing:-0.35px;left:707.00px;-webkit-text-stroke:0.2px #3c4043;">Brazil</div>
<div class="t" style="top:402.40px;font-size:13px;line-height:13px;color:#3c4043;letter-spacing:-0.3px;right:1026.00px;margin-right:0.3px;">1</div>
<div class="t lnk" style="right:1042.80px;top:433.15px">View realtime</div>
<svg class="ic" style="left:1014.4px;top:433.5px" width="12" height="12" viewBox="0 0 12 12"><path d="M0.3 6 L11 6 M5.8 0.9 L10.9 6 L5.8 11.1" fill="none" stroke="#1a73e8" stroke-width="1.6"/></svg>
<div class="t ttl" style="left:1081.5px;top:112.95px">Active users<span class="car"></span> by <span class="dim">City</span></div>
<div class="pill" style="left:1340.5px;top:111.0px;width:56.0px;height:27.0px"></div>
<svg class="ic" style="left:1347.0px;top:115.5px" width="18" height="18" viewBox="0 0 18 18"><circle cx="9.4" cy="8.7" r="7.15" fill="none" stroke="#188038" stroke-width="1.6"/><path d="M5.7 9.1 L7.9 11.5 L12.8 6.3" fill="none" stroke="#188038" stroke-width="1.6"/></svg>
<svg class="ic" style="left:1375.3px;top:121.9px" width="10" height="6" viewBox="0 0 10 6"><path d="M1.3 0.3 L8.7 0.3 L5 4.6 Z" fill="#5f6368"/></svg>
<div class="t" style="top:156.19px;font-size:11px;line-height:11px;color:#5f6368;letter-spacing:0.45px;left:1081.50px;-webkit-text-stroke:0.3px #5f6368;"><span class="du du11">CITY</span></div>
<div class="t" style="top:156.19px;font-size:11px;line-height:11px;color:#5f6368;letter-spacing:0.45px;right:651.50px;margin-right:-0.45px;-webkit-text-stroke:0.3px #5f6368;"><span class="du du11">ACTIVE USERS</span></div>
<div class="r" style="left:1081.50px;top:177.10px;width:315.00px;height:1.00px;background:#e8eaed;"></div>
<div class="t" style="top:185.70px;font-size:13px;line-height:13px;color:#3c4043;letter-spacing:-0.35px;left:1081.50px;-webkit-text-stroke:0.2px #3c4043;">Aspen</div>
<div class="t" style="top:185.70px;font-size:13px;line-height:13px;color:#3c4043;letter-spacing:-0.3px;right:651.50px;margin-right:0.3px;">4.4K</div>
<div class="r" style="left:1081.50px;top:207.00px;width:315.00px;height:1.00px;background:#e8eaed;"></div>
<div class="t" style="top:215.70px;font-size:13px;line-height:13px;color:#3c4043;letter-spacing:-0.35px;left:1081.50px;-webkit-text-stroke:0.2px #3c4043;">New York</div>
<div class="t" style="top:215.70px;font-size:13px;line-height:13px;color:#3c4043;letter-spacing:-0.3px;right:651.50px;margin-right:0.3px;">1.5K</div>
<div class="r" style="left:1081.50px;top:237.00px;width:315.00px;height:1.00px;background:#e8eaed;"></div>
<div class="t" style="top:245.70px;font-size:13px;line-height:13px;color:#3c4043;letter-spacing:-0.35px;left:1081.50px;-webkit-text-stroke:0.2px #3c4043;">Mountain View</div>
<div class="t" style="top:245.70px;font-size:13px;line-height:13px;color:#3c4043;letter-spacing:-0.3px;right:651.50px;margin-right:0.3px;">1.3K</div>
<div class="r" style="left:1081.50px;top:267.00px;width:315.00px;height:1.00px;background:#e8eaed;"></div>
<div class="t" style="top:275.70px;font-size:13px;line-height:13px;color:#3c4043;letter-spacing:-0.35px;left:1081.50px;-webkit-text-stroke:0.2px #3c4043;">San Francisco</div>
<div class="t" style="top:275.70px;font-size:13px;line-height:13px;color:#3c4043;letter-spacing:-0.3px;right:651.50px;margin-right:0.3px;">911</div>
<div class="r" style="left:1081.50px;top:297.00px;width:315.00px;height:1.00px;background:#e8eaed;"></div>
<div class="t" style="top:305.70px;font-size:13px;line-height:13px;color:#3c4043;letter-spacing:-0.35px;left:1081.50px;-webkit-text-stroke:0.2px #3c4043;">Sunnyvale</div>
<div class="t" style="top:305.70px;font-size:13px;line-height:13px;color:#3c4043;letter-spacing:-0.3px;right:651.50px;margin-right:0.3px;">880</div>
<div class="r" style="left:1081.50px;top:327.00px;width:315.00px;height:1.00px;background:#e8eaed;"></div>
<div class="t" style="top:335.70px;font-size:13px;line-height:13px;color:#3c4043;letter-spacing:-0.35px;left:1081.50px;-webkit-text-stroke:0.2px #3c4043;">Toronto</div>
<div class="t" style="top:335.70px;font-size:13px;line-height:13px;color:#3c4043;letter-spacing:-0.3px;right:651.50px;margin-right:0.3px;">833</div>
<div class="r" style="left:1081.50px;top:357.00px;width:315.00px;height:1.00px;background:#e8eaed;"></div>
<div class="t" style="top:365.70px;font-size:13px;line-height:13px;color:#3c4043;letter-spacing:-0.35px;left:1081.50px;-webkit-text-stroke:0.2px #3c4043;">San Jose</div>
<div class="t" style="top:365.70px;font-size:13px;line-height:13px;color:#3c4043;letter-spacing:-0.3px;right:651.50px;margin-right:0.3px;">826</div>
<div class="t lnk" style="right:668.30px;top:433.15px">View cities</div>
<svg class="ic" style="left:1388.9px;top:433.5px" width="12" height="12" viewBox="0 0 12 12"><path d="M0.3 6 L11 6 M5.8 0.9 L10.9 6 L5.8 11.1" fill="none" stroke="#1a73e8" stroke-width="1.6"/></svg>
<div class="t ttl" style="left:1456.3px;top:112.95px">Active users<span class="car"></span> by <span class="dim">Gender</span></div>
<div class="pill" style="left:1640.5px;top:111.0px;width:55.5px;height:27.0px"></div>
<svg class="ic" style="left:1647.0px;top:115.5px" width="18" height="18" viewBox="0 0 18 18"><path d="M8.7 2.6 L16.1 14.5 L1.3 14.5 Z" fill="none" stroke="#e37400" stroke-width="1.5" stroke-linejoin="miter"/><rect x="8.05" y="6.9" width="1.3" height="4.1" fill="#e37400"/><rect x="8.05" y="12" width="1.3" height="1.2" fill="#e37400"/></svg>
<svg class="ic" style="left:1674.8px;top:121.9px" width="10" height="6" viewBox="0 0 10 6"><path d="M1.3 0.3 L8.7 0.3 L5 4.6 Z" fill="#5f6368"/></svg>
<svg class="ic" style="left:1489.2px;top:167.5px" width="173.0" height="173.0" viewBox="-86.5 -86.5 173.0 173.0"><circle r="73.60" fill="none" stroke="#4285f4" stroke-width="23.80"/><circle r="73.60" fill="none" stroke="#1967d2" stroke-width="23.80" stroke-dasharray="268.22 462.44" transform="rotate(-90)"/></svg>
<div class="r" style="left:1481.8px;top:365.1px;width:5px;height:5px;border-radius:50%;background:#1967d2"></div>
<div class="r" style="left:1601.6px;top:365.1px;width:5px;height:5px;border-radius:50%;background:#4285f4"></div>
<div class="t" style="top:363.11px;font-size:10.5px;line-height:10.5px;color:#5f6368;letter-spacing:0.45px;left:1492.20px;-webkit-text-stroke:0.3px #5f6368;">MALE</div>
<div class="t" style="top:363.11px;font-size:10.5px;line-height:10.5px;color:#5f6368;letter-spacing:0.45px;left:1612.30px;-webkit-text-stroke:0.3px #5f6368;">FEMALE</div>
<div class="t" style="top:377.95px;font-size:20.5px;line-height:20.5px;color:#202124;left:1492.00px;">58.0%</div>
<div class="t" style="top:377.95px;font-size:20.5px;line-height:20.5px;color:#202124;left:1612.00px;">42.0%</div>
<div class="t lnk" style="right:368.80px;top:433.15px">View genders</div>
<svg class="ic" style="left:1688.4px;top:433.5px" width="12" height="12" viewBox="0 0 12 12"><path d="M0.3 6 L11 6 M5.8 0.9 L10.9 6 L5.8 11.1" fill="none" stroke="#1a73e8" stroke-width="1.6"/></svg>
<div class="t ttl" style="left:1756px;top:112.95px">Active users<span class="car"></span> by <span class="dim">Interests</span></div>
<div class="pill" style="left:1940.5px;top:111.0px;width:55.5px;height:27.0px"></div>
<svg class="ic" style="left:1947.0px;top:115.5px" width="18" height="18" viewBox="0 0 18 18"><path d="M8.7 2.6 L16.1 14.5 L1.3 14.5 Z" fill="none" stroke="#e37400" stroke-width="1.5" stroke-linejoin="miter"/><rect x="8.05" y="6.9" width="1.3" height="4.1" fill="#e37400"/><rect x="8.05" y="12" width="1.3" height="1.2" fill="#e37400"/></svg>
<svg class="ic" style="left:1974.8px;top:121.9px" width="10" height="6" viewBox="0 0 10 6"><path d="M1.3 0.3 L8.7 0.3 L5 4.6 Z" fill="#5f6368"/></svg>
<div class="t" style="top:156.19px;font-size:11px;line-height:11px;color:#5f6368;letter-spacing:0.45px;left:1756.00px;-webkit-text-stroke:0.3px #5f6368;"><span class="du du11">INTERESTS</span></div>
<div class="t" style="top:156.19px;font-size:11px;line-height:11px;color:#5f6368;letter-spacing:0.45px;right:52.00px;margin-right:-0.45px;-webkit-text-stroke:0.3px #5f6368;"><span class="du du11">ACTIVE USERS</span></div>
<div class="r" style="left:1756.00px;top:177.10px;width:240.00px;height:1.00px;background:#e8eaed;"></div>
<div class="t" style="top:185.70px;font-size:13px;line-height:13px;color:#3c4043;letter-spacing:-0.35px;left:1756.00px;-webkit-text-stroke:0.2px #3c4043;">Technology/Technop...</div>
<div class="t" style="top:185.70px;font-size:13px;line-height:13px;color:#3c4043;letter-spacing:-0.3px;right:52.00px;margin-right:0.3px;">1.3K</div>
<div class="r" style="left:1756.00px;top:207.00px;width:240.00px;height:1.00px;background:#e8eaed;"></div>
<div class="t" style="top:215.70px;font-size:13px;line-height:13px;color:#3c4043;letter-spacing:-0.35px;left:1756.00px;-webkit-text-stroke:0.2px #3c4043;">Banking &amp; Finance/A...</div>
<div class="t" style="top:215.70px;font-size:13px;line-height:13px;color:#3c4043;letter-spacing:-0.3px;right:52.00px;margin-right:0.3px;">902</div>
<div class="r" style="left:1756.00px;top:237.00px;width:240.00px;height:1.00px;background:#e8eaed;"></div>
<div class="t" style="top:245.70px;font-size:13px;line-height:13px;color:#3c4043;letter-spacing:-0.35px;left:1756.00px;-webkit-text-stroke:0.2px #3c4043;">News &amp; Politics/Avid...</div>
<div class="t" style="top:245.70px;font-size:13px;line-height:13px;color:#3c4043;letter-spacing:-0.3px;right:52.00px;margin-right:0.3px;">809</div>
<div class="r" style="left:1756.00px;top:267.00px;width:240.00px;height:1.00px;background:#e8eaed;"></div>
<div class="t" style="top:275.70px;font-size:13px;line-height:13px;color:#3c4043;letter-spacing:-0.35px;left:1756.00px;-webkit-text-stroke:0.2px #3c4043;">News &amp; Politics/Avid...</div>
<div class="t" style="top:275.70px;font-size:13px;line-height:13px;color:#3c4043;letter-spacing:-0.3px;right:52.00px;margin-right:0.3px;">735</div>
<div class="r" style="left:1756.00px;top:297.00px;width:240.00px;height:1.00px;background:#e8eaed;"></div>
<div class="t" style="top:305.70px;font-size:13px;line-height:13px;color:#3c4043;letter-spacing:-0.35px;left:1756.00px;-webkit-text-stroke:0.2px #3c4043;">News &amp; Politics/Avid...</div>
<div class="t" style="top:305.70px;font-size:13px;line-height:13px;color:#3c4043;letter-spacing:-0.3px;right:52.00px;margin-right:0.3px;">675</div>
<div class="r" style="left:1756.00px;top:327.00px;width:240.00px;height:1.00px;background:#e8eaed;"></div>
<div class="t" style="top:335.70px;font-size:13px;line-height:13px;color:#3c4043;letter-spacing:-0.35px;left:1756.00px;-webkit-text-stroke:0.2px #3c4043;">Lifestyles &amp; Hobbies...</div>
<div class="t" style="top:335.70px;font-size:13px;line-height:13px;color:#3c4043;letter-spacing:-0.3px;right:52.00px;margin-right:0.3px;">603</div>
<div class="r" style="left:1756.00px;top:357.00px;width:240.00px;height:1.00px;background:#e8eaed;"></div>
<div class="t" style="top:365.70px;font-size:13px;line-height:13px;color:#3c4043;letter-spacing:-0.35px;left:1756.00px;-webkit-text-stroke:0.2px #3c4043;">Technology/Mobile E...</div>
<div class="t" style="top:365.70px;font-size:13px;line-height:13px;color:#3c4043;letter-spacing:-0.3px;right:52.00px;margin-right:0.3px;">515</div>
<div class="t lnk" style="right:68.80px;top:433.15px">View interests</div>
<svg class="ic" style="left:1988.4px;top:433.5px" width="12" height="12" viewBox="0 0 12 12"><path d="M0.3 6 L11 6 M5.8 0.9 L10.9 6 L5.8 11.1" fill="none" stroke="#1a73e8" stroke-width="1.6"/></svg>
<div class="card" style="left:9px;top:515px;width:437px;height:377px"></div>
<div class="card" style="left:459px;top:515px;width:436px;height:377px"></div>
<div class="card" style="left:908px;top:515px;width:437px;height:377px"></div>
<div class="t ttl" style="left:32px;top:540.45px">Active users<span class="car"></span> by <span class="dim">Age</span></div>
<div class="pill" style="left:366.0px;top:538.4px;width:57.0px;height:26.3px"></div>
<svg class="ic" style="left:372.5px;top:542.5px" width="18" height="18" viewBox="0 0 18 18"><path d="M8.7 2.6 L16.1 14.5 L1.3 14.5 Z" fill="none" stroke="#e37400" stroke-width="1.5" stroke-linejoin="miter"/><rect x="8.05" y="6.9" width="1.3" height="4.1" fill="#e37400"/><rect x="8.05" y="12" width="1.3" height="1.2" fill="#e37400"/></svg>
<svg class="ic" style="left:401.8px;top:548.9px" width="10" height="6" viewBox="0 0 10 6"><path d="M1.3 0.3 L8.7 0.3 L5 4.6 Z" fill="#5f6368"/></svg>
<div class="r" style="left:126.20px;top:580.50px;width:1.00px;height:213.00px;background:#e3e5e8;"></div>
<div class="t" style="top:796.29px;font-size:11px;line-height:11px;color:#5f6368;left:-73.30px;width:400px;text-align:center;">0</div>
<div class="r" style="left:220.13px;top:580.50px;width:1.00px;height:213.00px;background:#e3e5e8;"></div>
<div class="t" style="top:796.29px;font-size:11px;line-height:11px;color:#5f6368;left:20.63px;width:400px;text-align:center;">2K</div>
<div class="r" style="left:314.07px;top:580.50px;width:1.00px;height:213.00px;background:#e3e5e8;"></div>
<div class="t" style="top:796.29px;font-size:11px;line-height:11px;color:#5f6368;left:114.57px;width:400px;text-align:center;">4K</div>
<div class="r" style="left:408.00px;top:580.50px;width:1.00px;height:213.00px;background:#e3e5e8;"></div>
<div class="t" style="top:796.29px;font-size:11px;line-height:11px;color:#5f6368;left:208.50px;width:400px;text-align:center;">6K</div>
<div class="r" style="left:126.70px;top:596.10px;width:271.70px;height:27.80px;background:#1a73e8;"></div>
<div class="r" style="left:120.30px;top:609.50px;width:6.00px;height:1.00px;background:#dadce0;"></div>
<div class="t" style="top:604.32px;font-size:12.5px;line-height:12.5px;color:#3c4043;letter-spacing:-0.15px;left:33.00px;-webkit-text-stroke:0.25px #3c4043;">18-24</div>
<div class="r" style="left:126.70px;top:627.03px;width:207.90px;height:27.80px;background:#1a73e8;"></div>
<div class="r" style="left:120.30px;top:640.43px;width:6.00px;height:1.00px;background:#dadce0;"></div>
<div class="t" style="top:635.25px;font-size:12.5px;line-height:12.5px;color:#3c4043;letter-spacing:-0.15px;left:33.00px;-webkit-text-stroke:0.25px #3c4043;">25-34</div>
<div class="r" style="left:126.70px;top:657.96px;width:117.90px;height:27.80px;background:#1a73e8;"></div>
<div class="r" style="left:120.30px;top:671.36px;width:6.00px;height:1.00px;background:#dadce0;"></div>
<div class="t" style="top:666.18px;font-size:12.5px;line-height:12.5px;color:#3c4043;letter-spacing:-0.15px;left:33.00px;-webkit-text-stroke:0.25px #3c4043;">35-44</div>
<div class="r" style="left:126.70px;top:688.89px;width:79.90px;height:27.80px;background:#1a73e8;"></div>
<div class="r" style="left:120.30px;top:702.29px;width:6.00px;height:1.00px;background:#dadce0;"></div>
<div class="t" style="top:697.11px;font-size:12.5px;line-height:12.5px;color:#3c4043;letter-spacing:-0.15px;left:33.00px;-webkit-text-stroke:0.25px #3c4043;">45-54</div>
<div class="r" style="left:126.70px;top:719.82px;width:25.30px;height:27.80px;background:#1a73e8;"></div>
<div class="r" style="left:120.30px;top:733.22px;width:6.00px;height:1.00px;background:#dadce0;"></div>
<div class="t" style="top:728.04px;font-size:12.5px;line-height:12.5px;color:#3c4043;letter-spacing:-0.15px;left:33.00px;-webkit-text-stroke:0.25px #3c4043;">55-64</div>
<div class="r" style="left:126.70px;top:750.75px;width:17.90px;height:27.80px;background:#1a73e8;"></div>
<div class="r" style="left:120.30px;top:764.15px;width:6.00px;height:1.00px;background:#dadce0;"></div>
<div class="t" style="top:758.97px;font-size:12.5px;line-height:12.5px;color:#3c4043;letter-spacing:-0.15px;left:33.00px;-webkit-text-stroke:0.25px #3c4043;">65+</div>
<div class="t lnk" style="right:1642.80px;top:860.15px">View age ranges</div>
<svg class="ic" style="left:414.4px;top:860.5px" width="12" height="12" viewBox="0 0 12 12"><path d="M0.3 6 L11 6 M5.8 0.9 L10.9 6 L5.8 11.1" fill="none" stroke="#1a73e8" stroke-width="1.6"/></svg>
<div class="t ttl" style="left:482.3px;top:540.45px">Active users<span class="car"></span> by <span class="dim">Language</span></div>
<div class="pill" style="left:816.4px;top:538.6px;width:55.2px;height:25.4px"></div>
<svg class="ic" style="left:822.9px;top:542.3px" width="18" height="18" viewBox="0 0 18 18"><circle cx="9.4" cy="8.7" r="7.15" fill="none" stroke="#188038" stroke-width="1.6"/><path d="M5.7 9.1 L7.9 11.5 L12.8 6.3" fill="none" stroke="#188038" stroke-width="1.6"/></svg>
<svg class="ic" style="left:850.4px;top:548.7px" width="10" height="6" viewBox="0 0 10 6"><path d="M1.3 0.3 L8.7 0.3 L5 4.6 Z" fill="#5f6368"/></svg>
<div class="r" style="left:575.40px;top:580.50px;width:1.00px;height:213.00px;background:#e3e5e8;"></div>
<div class="t" style="top:796.29px;font-size:11px;line-height:11px;color:#5f6368;left:375.90px;width:400px;text-align:center;">0</div>
<div class="r" style="left:645.88px;top:580.50px;width:1.00px;height:213.00px;background:#e3e5e8;"></div>
<div class="t" style="top:796.29px;font-size:11px;line-height:11px;color:#5f6368;left:446.38px;width:400px;text-align:center;">10K</div>
<div class="r" style="left:716.35px;top:580.50px;width:1.00px;height:213.00px;background:#e3e5e8;"></div>
<div class="t" style="top:796.29px;font-size:11px;line-height:11px;color:#5f6368;left:516.85px;width:400px;text-align:center;">20K</div>
<div class="r" style="left:786.82px;top:580.50px;width:1.00px;height:213.00px;background:#e3e5e8;"></div>
<div class="t" style="top:796.29px;font-size:11px;line-height:11px;color:#5f6368;left:587.32px;width:400px;text-align:center;">30K</div>
<div class="r" style="left:857.30px;top:580.50px;width:1.00px;height:213.00px;background:#e3e5e8;"></div>
<div class="t" style="top:796.29px;font-size:11px;line-height:11px;color:#5f6368;left:657.80px;width:400px;text-align:center;">40K</div>
<div class="r" style="left:575.90px;top:596.40px;width:273.30px;height:23.30px;background:#1a73e8;"></div>
<div class="r" style="left:569.50px;top:607.60px;width:6.00px;height:1.00px;background:#dadce0;"></div>
<div class="t" style="top:602.52px;font-size:12.5px;line-height:12.5px;color:#3c4043;letter-spacing:-0.2px;left:482.30px;-webkit-text-stroke:0.25px #3c4043;">English</div>
<div class="r" style="left:575.90px;top:622.60px;width:31.00px;height:23.30px;background:#1a73e8;"></div>
<div class="r" style="left:569.50px;top:633.80px;width:6.00px;height:1.00px;background:#dadce0;"></div>
<div class="t" style="top:628.72px;font-size:12.5px;line-height:12.5px;color:#3c4043;letter-spacing:-0.2px;left:482.30px;-webkit-text-stroke:0.25px #3c4043;">Chinese</div>
<div class="r" style="left:575.90px;top:648.80px;width:11.20px;height:23.30px;background:#1a73e8;"></div>
<div class="r" style="left:569.50px;top:660.00px;width:6.00px;height:1.00px;background:#dadce0;"></div>
<div class="t" style="top:654.92px;font-size:12.5px;line-height:12.5px;color:#3c4043;letter-spacing:-0.2px;left:482.30px;-webkit-text-stroke:0.25px #3c4043;">Spanish</div>
<div class="r" style="left:575.90px;top:675.00px;width:6.00px;height:23.30px;background:#1a73e8;"></div>
<div class="r" style="left:569.50px;top:686.20px;width:6.00px;height:1.00px;background:#dadce0;"></div>
<div class="t" style="top:681.12px;font-size:12.5px;line-height:12.5px;color:#3c4043;letter-spacing:-0.2px;left:482.30px;-webkit-text-stroke:0.25px #3c4043;">Japanese</div>
<div class="r" style="left:575.90px;top:701.20px;width:5.10px;height:23.30px;background:#1a73e8;"></div>
<div class="r" style="left:569.50px;top:712.40px;width:6.00px;height:1.00px;background:#dadce0;"></div>
<div class="t" style="top:707.32px;font-size:12.5px;line-height:12.5px;color:#3c4043;letter-spacing:-0.2px;left:482.30px;-webkit-text-stroke:0.25px #3c4043;">French</div>
<div class="r" style="left:575.90px;top:727.40px;width:4.70px;height:23.30px;background:#1a73e8;"></div>
<div class="r" style="left:569.50px;top:738.60px;width:6.00px;height:1.00px;background:#dadce0;"></div>
<div class="t" style="top:733.52px;font-size:12.5px;line-height:12.5px;color:#3c4043;letter-spacing:-0.2px;left:482.30px;-webkit-text-stroke:0.25px #3c4043;">Korean</div>
<div class="r" style="left:575.90px;top:753.60px;width:3.80px;height:23.30px;background:#1a73e8;"></div>
<div class="r" style="left:569.50px;top:764.80px;width:6.00px;height:1.00px;background:#dadce0;"></div>
<div class="t" style="top:759.72px;font-size:12.5px;line-height:12.5px;color:#3c4043;letter-spacing:-0.2px;left:482.30px;-webkit-text-stroke:0.25px #3c4043;">Portuguese</div>
<div class="t lnk" style="right:1192.80px;top:860.15px">View languages</div>
<svg class="ic" style="left:864.4px;top:860.5px" width="12" height="12" viewBox="0 0 12 12"><path d="M0.3 6 L11 6 M5.8 0.9 L10.9 6 L5.8 11.1" fill="none" stroke="#1a73e8" stroke-width="1.6"/></svg>
<div class="t ttl" style="left:931.5px;top:540.45px"><span class="dim">Average 120d value</span></div>
<div class="pill" style="left:1265.5px;top:538.6px;width:56.1px;height:25.4px"></div>
<svg class="ic" style="left:1272.0px;top:542.3px" width="18" height="18" viewBox="0 0 18 18"><circle cx="9.4" cy="8.7" r="7.15" fill="none" stroke="#188038" stroke-width="1.6"/><path d="M5.7 9.1 L7.9 11.5 L12.8 6.3" fill="none" stroke="#188038" stroke-width="1.6"/></svg>
<svg class="ic" style="left:1300.4px;top:548.7px" width="10" height="6" viewBox="0 0 10 6"><path d="M1.3 0.3 L8.7 0.3 L5 4.6 Z" fill="#5f6368"/></svg>
<div class="r" style="left:935.80px;top:584.70px;width:353.00px;height:1.00px;background:#e8eaed;"></div>
<div class="r" style="left:1292.80px;top:584.70px;width:27.50px;height:1.00px;background:#e8eaed;"></div>
<div class="t" style="top:587.79px;font-size:11px;line-height:11px;color:#5f6368;right:726.50px;">$4.00</div>
<div class="r" style="left:935.80px;top:641.80px;width:353.00px;height:1.00px;background:#e8eaed;"></div>
<div class="r" style="left:1292.80px;top:641.80px;width:27.50px;height:1.00px;background:#e8eaed;"></div>
<div class="t" style="top:644.89px;font-size:11px;line-height:11px;color:#5f6368;right:726.50px;">$3.00</div>
<div class="r" style="left:935.80px;top:698.80px;width:353.00px;height:1.00px;background:#e8eaed;"></div>
<div class="r" style="left:1292.80px;top:698.80px;width:27.50px;height:1.00px;background:#e8eaed;"></div>
<div class="t" style="top:701.89px;font-size:11px;line-height:11px;color:#5f6368;right:726.50px;">$2.00</div>
<div class="r" style="left:935.80px;top:754.90px;width:353.00px;height:1.00px;background:#e8eaed;"></div>
<div class="r" style="left:1292.80px;top:754.90px;width:27.50px;height:1.00px;background:#e8eaed;"></div>
<div class="t" style="top:757.99px;font-size:11px;line-height:11px;color:#5f6368;right:726.50px;">$1.00</div>
<div class="r" style="left:935.80px;top:812.50px;width:353.00px;height:1.00px;background:#e3e5e8;"></div>
<div class="r" style="left:1292.80px;top:812.30px;width:27.50px;height:1.00px;background:#e8eaed;"></div>
<div class="t" style="top:800.19px;font-size:11px;line-height:11px;color:#5f6368;right:726.50px;">$0.00</div>
<div class="r" style="left:959.80px;top:812.80px;width:1.00px;height:6.00px;background:#dadce0;"></div>
<div class="t" style="top:818.89px;font-size:11px;line-height:11px;color:#5f6368;left:960.60px;">Day</div>
<div class="t" style="top:830.29px;font-size:11px;line-height:11px;color:#5f6368;left:960.60px;">8</div>
<div class="r" style="left:1048.60px;top:812.80px;width:1.00px;height:6.00px;background:#dadce0;"></div>
<div class="t" style="top:818.89px;font-size:11px;line-height:11px;color:#5f6368;left:849.10px;width:400px;text-align:center;">Day</div>
<div class="t" style="top:830.29px;font-size:11px;line-height:11px;color:#5f6368;left:849.10px;width:400px;text-align:center;">38</div>
<div class="r" style="left:1140.90px;top:812.80px;width:1.00px;height:6.00px;background:#dadce0;"></div>
<div class="t" style="top:818.89px;font-size:11px;line-height:11px;color:#5f6368;left:941.40px;width:400px;text-align:center;">Day</div>
<div class="t" style="top:830.29px;font-size:11px;line-height:11px;color:#5f6368;left:941.40px;width:400px;text-align:center;">69</div>
<div class="r" style="left:1232.30px;top:812.80px;width:1.00px;height:6.00px;background:#dadce0;"></div>
<div class="t" style="top:818.89px;font-size:11px;line-height:11px;color:#5f6368;right:815.20px;">Day</div>
<div class="t" style="top:830.29px;font-size:11px;line-height:11px;color:#5f6368;right:815.20px;">100</div>
<svg class="ic" style="left:0;top:0" width="2048" height="916"><path d="M936.1 737.5 L939.2 728.3 L944.8 717.5 L950.8 709.1 L953.8 702.5 L956.8 700.1 L959.8 695.6 L965.8 692.9 L971.8 689.2 L980.3 684.7 L983.9 684.7 L989.9 682.4 L993.5 680.5 L1001.3 677.8 L1007.3 678.2 L1010.3 676.3 L1015.1 675.7 L1019.9 673.0 L1023.5 672.2 L1028.3 672.2 L1033.7 670.4 L1037.9 670.0 L1043.3 668.6 L1054.1 668.6 L1058.3 667.6 L1063.1 667.0 L1069.1 665.8 L1075.2 665.8 L1078.8 664.9 L1095.6 664.9 L1099.2 663.8 L1128.0 663.8 L1131.0 662.9 L1199.0 662.9 L1202.0 661.9 L1288.7 661.9" fill="none" stroke="#1a73e8" stroke-width="2" stroke-linejoin="round" stroke-linecap="round"/></svg>
<div class="t" style="top:859.30px;font-size:13px;line-height:13px;color:#3c4043;letter-spacing:-0.45px;left:931.50px;-webkit-text-stroke:0.15px #3c4043;">Last 120 days ending Feb 20</div>
<svg class="ic" style="left:0;top:0" width="2048" height="916"><line x1="403.6" y1="207.5" x2="537.4" y2="207.5" stroke="#1a73e8" stroke-width="2" stroke-linecap="round"/><line x1="403.6" y1="237.5" x2="422.7" y2="237.5" stroke="#1a73e8" stroke-width="2" stroke-linecap="round"/><line x1="403.6" y1="267.5" x2="418.2" y2="267.5" stroke="#1a73e8" stroke-width="2" stroke-linecap="round"/><line x1="403.6" y1="297.5" x2="418.2" y2="297.5" stroke="#1a73e8" stroke-width="2" stroke-linecap="round"/><line x1="403.6" y1="327.5" x2="406.6" y2="327.5" stroke="#1a73e8" stroke-width="2" stroke-linecap="round"/><line x1="403.6" y1="357.5" x2="405.5" y2="357.5" stroke="#1a73e8" stroke-width="2" stroke-linecap="round"/><line x1="403.6" y1="387.5" x2="405.4" y2="387.5" stroke="#1a73e8" stroke-width="2" stroke-linecap="round"/><line x1="708.6" y1="314.5" x2="941.7" y2="314.5" stroke="#1a73e8" stroke-width="2" stroke-linecap="round"/><line x1="708.6" y1="341.5" x2="728.8" y2="341.5" stroke="#1a73e8" stroke-width="2" stroke-linecap="round"/><line x1="708.6" y1="368.5" x2="724.3" y2="368.5" stroke="#1a73e8" stroke-width="2" stroke-linecap="round"/><line x1="708.6" y1="395.5" x2="715.5" y2="395.5" stroke="#1a73e8" stroke-width="2" stroke-linecap="round"/><line x1="708.6" y1="422.5" x2="711.0" y2="422.5" stroke="#1a73e8" stroke-width="2" stroke-linecap="round"/><line x1="1083.1" y1="207.5" x2="1112.1" y2="207.5" stroke="#1a73e8" stroke-width="2" stroke-linecap="round"/><line x1="1083.1" y1="237.5" x2="1091.7" y2="237.5" stroke="#1a73e8" stroke-width="2" stroke-linecap="round"/><line x1="1083.1" y1="267.5" x2="1090.3" y2="267.5" stroke="#1a73e8" stroke-width="2" stroke-linecap="round"/><line x1="1083.1" y1="297.5" x2="1087.5" y2="297.5" stroke="#1a73e8" stroke-width="2" stroke-linecap="round"/><line x1="1083.1" y1="327.5" x2="1087.3" y2="327.5" stroke="#1a73e8" stroke-width="2" stroke-linecap="round"/><line x1="1083.1" y1="357.5" x2="1087.0" y2="357.5" stroke="#1a73e8" stroke-width="2" stroke-linecap="round"/><line x1="1083.1" y1="387.5" x2="1086.9" y2="387.5" stroke="#1a73e8" stroke-width="2" stroke-linecap="round"/><line x1="1757.6" y1="207.5" x2="1837.7" y2="207.5" stroke="#1a73e8" stroke-width="2" stroke-linecap="round"/><line x1="1757.6" y1="237.5" x2="1812.6" y2="237.5" stroke="#1a73e8" stroke-width="2" stroke-linecap="round"/><line x1="1757.6" y1="267.5" x2="1806.7" y2="267.5" stroke="#1a73e8" stroke-width="2" stroke-linecap="round"/><line x1="1757.6" y1="297.5" x2="1802.0" y2="297.5" stroke="#1a73e8" stroke-width="2" stroke-linecap="round"/><line x1="1757.6" y1="327.5" x2="1798.2" y2="327.5" stroke="#1a73e8" stroke-width="2" stroke-linecap="round"/><line x1="1757.6" y1="357.5" x2="1793.7" y2="357.5" stroke="#1a73e8" stroke-width="2" stroke-linecap="round"/><line x1="1757.6" y1="387.5" x2="1788.1" y2="387.5" stroke="#1a73e8" stroke-width="2" stroke-linecap="round"/></svg>
</body></html>
